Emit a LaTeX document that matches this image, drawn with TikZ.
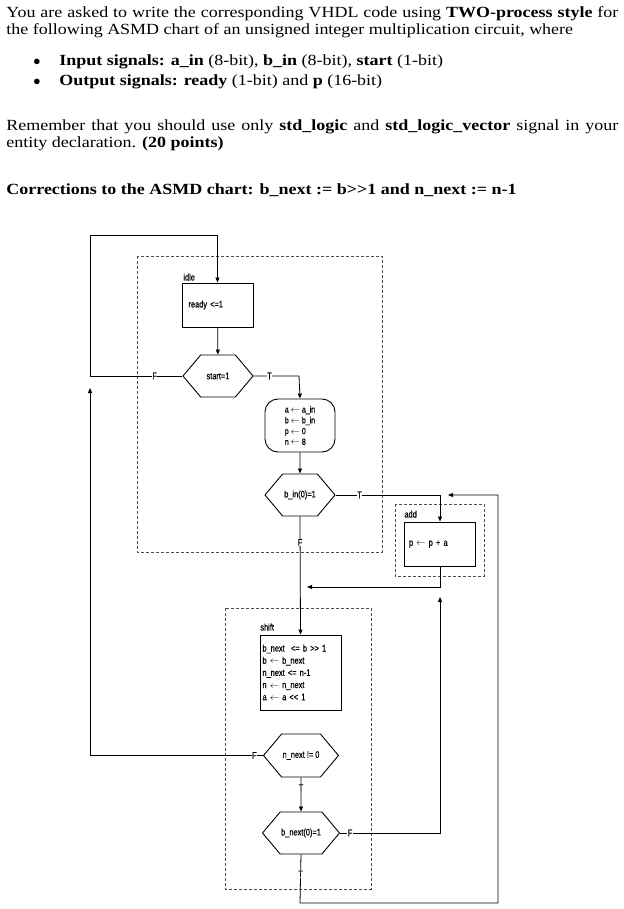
\documentclass[tikz,border=0pt]{standalone}
\usepackage{fontspec}
\setmainfont{Liberation Serif}[FakeStretch=1.16]
\newfontfamily\chartfont{Liberation Sans}[FakeStretch=0.78,FakeBold=0.5]
\usetikzlibrary{positioning,shapes.symbols,shapes.misc,arrows.meta}
\begin{document}
\begin{tikzpicture}[x=1pt,y=-1pt,>={Triangle[length=5pt,width=4pt]},line width=0.8pt,
txt/.style={anchor=north west, inner sep=0pt, font=\fontsize{15.5}{17.5}\selectfont, align=justify, text width=612pt},
blk/.style={draw, line width=0.9pt, minimum width=71pt, minimum height=44pt, inner sep=1pt, font=\chartfont\fontsize{9.5}{10.5}\selectfont},
dec/.style={draw, line width=0.9pt, shape=signal, signal to=west and east, signal pointer angle=100, minimum width=70pt, minimum height=42pt, inner sep=1pt, font=\chartfont\fontsize{9.5}{10}\selectfont},
region/.style={draw, densely dashed, line width=0.6pt, gray!60!black},
lbl/.style={fill=white, inner sep=0.5pt, font=\chartfont\fontsize{9.5}{10}\selectfont},
tag/.style={anchor=south west, inner sep=0pt, font=\chartfont\fontsize{9.5}{10}\selectfont},
]
\useasboundingbox (0,0) rectangle (623,909);

% Text
\node[txt] (q1) at (6,6) {You are asked to write the corresponding VHDL code using \textbf{TWO-process style} for the following ASMD chart of an unsigned integer multiplication circuit, where};
\node[anchor=west, inner sep=0pt] (b1) at (33,62) {\Large$\bullet$};
\node[anchor=west, inner sep=0pt] (b2) at (33,82) {\Large$\bullet$};
\node[anchor=west, inner sep=0pt, font=\fontsize{15.5}{18}\selectfont] (i1) at (59,62) {\textbf{Input signals: a\_in} (8-bit), \textbf{b\_in} (8-bit), \textbf{start} (1-bit)};
\node[anchor=west, inner sep=0pt, font=\fontsize{15.5}{18}\selectfont] (o1) at (59,82) {\textbf{Output signals: ready} (1-bit) and \textbf{p} (16-bit)};
\node[txt] (q2) at (6,119) {Remember that you should use only \textbf{std\_logic} and \textbf{std\_logic\_vector} signal in your entity declaration. \textbf{(20 points)}};
\node[anchor=west, inner sep=0pt, font=\fontsize{15.5}{18}\selectfont] (cor) at (6,190) {\textbf{Corrections to the ASMD chart: b\_next := b\textgreater\kern0pt\textgreater1 and n\_next := n-1}};

% Regions
\draw[region] (137,256) rectangle (382,552);
\draw[region] (395,504) rectangle (484,576);
\draw[region] (225,608) rectangle (371,889);
\node[tag] (tidle) at (183,281) {idle};
\node[tag] (tadd) at (404,518) {add};
\node[tag] (tshift) at (260,631) {shift};

% Blocks
\node[blk, text width=58pt] (idle) at (217.5,305) {ready \textless=1};
\node[dec] (start) at (218,376) {start=1};
\node[blk, rounded corners=13pt, minimum width=70pt, minimum height=53pt, align=left, font=\chartfont\fontsize{9}{10.8}\selectfont] (init) at (300,425.5) {a $\leftarrow$ a\_in\\b $\leftarrow$ b\_in\\p $\leftarrow$ 0\\n $\leftarrow$ 8};
\node[dec] (bin) at (300,495) {b\_in(0)=1};
\node[blk, text width=62pt] (add) at (440,544) {p $\leftarrow$ p + a};
\node[blk, minimum width=81pt, minimum height=75pt, text width=76pt, align=left, font=\chartfont\fontsize{9.5}{12.2}\selectfont] (shift) at (300.5,672.5) {b\_next \ \textless= b \textgreater\kern0pt\textgreater\ 1\\b $\leftarrow$ b\_next\\n\_next \textless= n-1\\n $\leftarrow$ n\_next\\a $\leftarrow$ a \textless\kern0pt\textless\ 1};
\node[dec, minimum width=68pt, minimum height=43pt] (nnext) at (301,755.5) {n\_next != 0};
\node[dec, minimum width=68pt] (bnext) at (301,833) {b\_next(0)=1};

% Junctions
\coordinate (top) at (90,235);
\coordinate (lup) at (90,388);
\coordinate (merge) at (307,587);
\coordinate (rin) at (448,495);
\coordinate (addup) at (440,597);
\coordinate (bot) at (300,903);

% Connectors
\draw[->] (start.west) -- node[lbl, pos=0.3]{F} (90,376) |- (top) -| (idle.north);
\draw[->] (idle) -- (start);
\draw[->] (start.east) -- node[lbl, pos=0.35]{T} (299,376) -- (init.north);
\draw[->] (init) -- (bin);
\draw[->] (bin.east) -- node[lbl, pos=0.23]{T} (440,495) -- (add.north);
\draw[->] (bin.south) -- node[lbl, pos=0.22]{F} (shift.north);
\draw[->] (add.south) |- (merge);
\draw[->] (nnext.west) -- node[lbl, pos=0.05]{F} (90,755.5) -- (lup);
\draw[->] (nnext) -- node[lbl, pos=0.3]{T} (bnext);
\draw[->] (bnext.east) -- node[lbl, pos=0.1]{F} (440,833) -- (addup);
\draw[->] (bnext.south) -- node[lbl, pos=0.4]{T} (bot) -| (498,495) -- (rin);
\end{tikzpicture}
\end{document}
